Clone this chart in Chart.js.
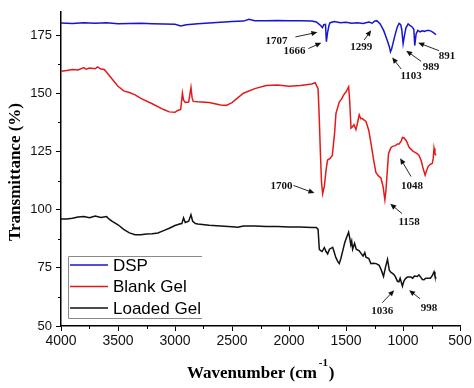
<!DOCTYPE html>
<html>
<head>
<meta charset="utf-8">
<style>
  html, body { margin: 0; padding: 0; background: #fff; }
  #wrap { width: 474px; height: 388px; }
</style>
<script src="https://cdn.jsdelivr.net/npm/chart.js@4.4.1/dist/chart.umd.min.js"></script>
</head>
<body>
<div id="wrap"><canvas id="ftir" width="474" height="388"></canvas></div>
<script>
// ── Data ─────────────────────────────────────
const dspX = [4000,3900,3800,3700,3600,3500,3400,3300,3200,3100,3000,2950,2900,2800,2700,2600,2500,2400,2350,2300,2200,2100,2000,1900,1800,1760,1740,1720,1707,1695,1680,1672,1662,1650,1640,1600,1550,1500,1450,1400,1350,1300,1270,1250,1230,1200,1170,1140,1120,1110,1100,1090,1070,1050,1034,1020,1010,999,990,975,955,940,920,905,897,885,870,850,830,810,790,770,750,730,720,710];
const dspY = [180.2,180.0,180.3,180.1,180.3,179.9,180.0,180.1,179.9,179.8,179.6,178.9,179.4,179.9,180.2,180.5,180.8,181.0,181.8,181.2,181.2,181.3,181.2,181.2,181.0,180.6,179.8,179.0,178.2,179.5,179.6,172.2,176.0,179.0,180.3,180.8,180.3,180.5,180.1,180.3,180.0,180.6,180.1,181.0,181.2,179.8,177.0,173.0,170.0,167.8,169.0,171.0,175.0,178.5,180.0,179.5,177.0,171.3,174.0,178.0,179.8,179.2,178.5,177.5,170.5,175.5,177.0,176.4,176.8,176.6,177.0,177.0,176.6,176.0,175.5,175.2];

const blankX = [4000,3950,3900,3850,3800,3780,3750,3700,3680,3650,3620,3600,3550,3500,3450,3400,3350,3300,3200,3100,3050,3000,2980,2950,2935,2925,2910,2880,2860,2850,2840,2800,2700,2600,2550,2500,2450,2400,2300,2200,2100,2000,1900,1800,1770,1760,1745,1735,1725,1715,1705,1690,1675,1662,1640,1620,1600,1588,1559,1540,1515,1500,1490,1477,1468,1456,1445,1430,1413,1400,1384,1370,1360,1340,1325,1300,1282,1260,1238,1215,1194,1175,1159,1150,1140,1127,1107,1092,1065,1049,1034,1015,1005,990,970,946,931,910,890,874,859,840,825,806,795,780,760,743,735,728,720,710];
const blankY = [159.5,159.8,160.2,160.0,161.0,160.3,160.8,160.5,161.3,160.4,160.2,159.0,156.0,153.0,151.0,150.3,149.3,147.8,145.5,143.0,142.0,141.8,142.5,143.0,150.0,147.0,146.0,146.2,152.5,148.0,146.5,146.3,146.0,145.0,144.8,146.0,148.0,150.0,152.0,153.3,153.5,153.0,153.3,154.0,154.5,153.5,152.0,140.0,125.0,112.0,106.8,110.0,117.0,121.3,122.0,123.3,133.0,141.4,146.2,147.5,149.7,150.5,151.5,152.8,147.0,135.0,135.5,136.5,134.4,137.0,140.7,139.0,139.2,138.5,137.9,134.0,128.9,122.0,116.0,114.5,113.6,110.0,104.2,108.0,115.0,124.0,126.5,127.2,127.5,128.2,128.2,129.5,131.0,130.8,129.5,126.8,126.0,125.0,124.5,124.0,123.3,121.0,118.0,114.8,116.5,118.5,119.5,119.9,122.0,126.4,124.0,123.3];

const loadedX = [4000,3950,3900,3850,3800,3750,3700,3650,3600,3580,3550,3500,3450,3400,3350,3300,3250,3200,3150,3100,3050,3000,2960,2940,2925,2910,2880,2860,2845,2820,2800,2700,2600,2500,2450,2400,2300,2200,2100,2000,1900,1800,1760,1745,1734,1725,1710,1690,1675,1661,1645,1617,1605,1590,1575,1559,1545,1525,1510,1495,1477,1468,1458,1450,1442,1425,1410,1384,1365,1350,1335,1325,1300,1282,1260,1235,1209,1190,1171,1155,1136,1120,1105,1092,1078,1065,1049,1036,1025,1005,1000,990,976,960,946,930,915,900,874,860,845,830,815,800,780,760,745,728,720,710];
const loadedY = [96.0,96.0,96.3,96.8,97.0,96.5,97.2,96.6,97.0,96.0,95.0,93.5,91.5,90.0,89.2,89.2,89.5,89.6,90.0,91.0,92.0,93.2,93.8,94.0,96.5,94.5,95.0,97.8,95.0,94.0,93.8,93.3,93.0,92.6,92.4,93.0,93.0,92.8,92.7,92.5,92.5,92.3,92.3,91.5,83.0,82.5,82.0,83.7,82.0,81.0,83.0,83.8,82.0,79.5,78.0,76.8,79.0,83.0,86.0,88.0,90.3,88.0,85.0,86.5,83.0,85.5,83.0,82.3,81.0,80.0,81.5,79.6,79.0,76.8,77.0,76.8,76.1,74.0,71.3,75.0,78.6,74.0,73.0,72.6,72.0,71.0,69.2,69.0,70.5,67.1,68.0,69.5,70.5,71.0,71.0,71.0,70.5,71.5,71.3,72.0,71.0,70.0,69.9,70.5,70.5,70.5,71.5,73.3,71.5,70.4];

const seriesNames  = ["DSP", "Blank Gel", "Loaded Gel"];
const seriesColors = ["#1616d2", "#e41a1a", "#111111"];

const yTickValues = [50, 75, 100, 125, 150, 175];
const xTickValues = [500, 1000, 1500, 2000, 2500, 3000, 3500, 4000];

// peak labels: text, text position, arrow tail, arrow head (data units)
const peakText  = ["1707","1666","1299","1103","989","891","1700","1158","1048","1036","998"];
const peakTextX = [2110,1952,1366,929,754,614,2066,946,920,1182,771];
const peakTextY = [172.5,167.9,169.6,157.5,161.2,165.8,110.0,94.6,110.0,56.2,57.5];
const tailX     = [1944,1830,1340,1016,841,684,1961,1008,929,1182,850];
const tailY     = [174.2,169.2,172.9,160.4,163.7,168.3,110.4,98.3,114.2,60.0,61.7];
const headX     = [1751,1716,1279,1095,972,867,1777,1112,1025,1077,946];
const headY     = [176.2,171.7,177.1,165.4,168.3,171.7,107.1,102.5,122.1,65.4,65.4];

const pts = (xs, ys) => xs.map((x, i) => ({ x, y: ys[i] }));

// ── Extra drawing: titles, minor ticks, legend, peak labels ──
const decor = {
  id: "decor",
  afterDraw(chart) {
    const { ctx, chartArea: ca, scales: { x, y } } = chart;
    ctx.save();

    // minor ticks
    ctx.strokeStyle = "#000";
    ctx.lineWidth = 1;
    ctx.beginPath();
    for (let v = 62.5; v < 185; v += 25) {
      const py = Math.round(y.getPixelForValue(v)) + 0.5;
      ctx.moveTo(ca.left - 3, py); ctx.lineTo(ca.left, py);
    }
    for (let v = 750; v < 4000; v += 500) {
      const px = Math.round(x.getPixelForValue(v)) + 0.5;
      ctx.moveTo(px, ca.bottom); ctx.lineTo(px, ca.bottom + 3);
    }
    ctx.stroke();

    // axis titles
    ctx.fillStyle = "#000";
    ctx.font = "bold 17px 'Liberation Serif'";
    ctx.textBaseline = "alphabetic";
    const main = "Wavenumber (cm";
    const wMain = ctx.measureText(main).width;
    const x0 = 187;
    ctx.textAlign = "left";
    ctx.fillText(main, x0, 378);
    ctx.fillText(")", x0 + wMain + 12, 378);
    ctx.font = "bold 11px 'Liberation Serif'";
    ctx.fillText("-1", x0 + wMain + 2, 366);

    ctx.save();
    ctx.translate(20, 172);
    ctx.rotate(-Math.PI / 2);
    ctx.font = "bold 17px 'Liberation Serif'";
    ctx.textAlign = "center";
    ctx.fillText("Transmittance (%)", 0, 0);
    ctx.restore();

    // legend box
    const lx = ca.left + 7, ly = 256, lw = 134, lh = 62;
    ctx.strokeStyle = "#8a8a8a";
    ctx.lineWidth = 1;
    ctx.beginPath();
    ctx.moveTo(lx + lw, ly + 0.5); ctx.lineTo(lx + 0.5, ly + 0.5);
    ctx.lineTo(lx + 0.5, ly + lh + 0.5); ctx.lineTo(lx + lw, ly + lh + 0.5);
    ctx.stroke();
    ctx.font = "17px 'Liberation Sans'";
    ctx.textAlign = "left";
    ctx.textBaseline = "middle";
    seriesNames.forEach((name, i) => {
      const yy = 265 + i * 21.5;
      ctx.strokeStyle = seriesColors[i];
      ctx.lineWidth = 1.4;
      ctx.beginPath();
      ctx.moveTo(lx + 2, yy); ctx.lineTo(lx + 40, yy);
      ctx.stroke();
      ctx.fillStyle = "#000";
      ctx.fillText(name, lx + 45, yy + 1);
    });

    // peak labels with arrows
    ctx.font = "bold 11px 'Liberation Serif'";
    ctx.textAlign = "center";
    ctx.textBaseline = "middle";
    ctx.fillStyle = "#111";
    ctx.strokeStyle = "#111";
    peakText.forEach((t, i) => {
      ctx.fillText(t, x.getPixelForValue(peakTextX[i]), y.getPixelForValue(peakTextY[i]));
      const x1 = x.getPixelForValue(tailX[i]), y1 = y.getPixelForValue(tailY[i]);
      const x2 = x.getPixelForValue(headX[i]), y2 = y.getPixelForValue(headY[i]);
      const a = Math.atan2(y2 - y1, x2 - x1);
      ctx.lineWidth = 0.9;
      ctx.beginPath();
      ctx.moveTo(x1, y1);
      ctx.lineTo(x2 - 4 * Math.cos(a), y2 - 4 * Math.sin(a));
      ctx.stroke();
      ctx.beginPath();
      ctx.moveTo(x2, y2);
      ctx.lineTo(x2 - 6 * Math.cos(a) + 2.6 * Math.sin(a), y2 - 6 * Math.sin(a) - 2.6 * Math.cos(a));
      ctx.lineTo(x2 - 6 * Math.cos(a) - 2.6 * Math.sin(a), y2 - 6 * Math.sin(a) + 2.6 * Math.cos(a));
      ctx.closePath();
      ctx.fill();
    });

    ctx.restore();
  }
};

new Chart(document.getElementById("ftir"), {
  type: "line",
  data: {
    datasets: [
      { label: seriesNames[0], data: pts(dspX, dspY) },
      { label: seriesNames[1], data: pts(blankX, blankY) },
      { label: seriesNames[2], data: pts(loadedX, loadedY) },
    ].map((d, i) => ({
      ...d,
      borderColor: seriesColors[i],
      backgroundColor: seriesColors[i],
      borderWidth: 1.5,
      pointRadius: 0,
      tension: 0,
      fill: false,
    }))
  },
  options: {
    responsive: false,
    animation: false,
    events: [],
    layout: { padding: { top: 2, right: 14, left: 0, bottom: 0 } },
    plugins: { legend: { display: false }, tooltip: { enabled: false } },
    scales: {
      x: {
        type: "linear",
        reverse: true,
        min: 500,
        max: 4000,
        afterBuildTicks: s => { s.ticks = xTickValues.map(v => ({ value: v })); },
        afterFit: s => { s.height = 62; },
        grid: { drawOnChartArea: false, tickLength: 5, color: "#000", tickWidth: 1 },
        border: { display: true, color: "#000", width: 1.5 },
        ticks: {
          color: "#111",
          padding: 2,
          maxRotation: 0,
          callback: v => String(v),
          font: { family: "'Liberation Sans'", size: 14 },
        }
      },
      y: {
        min: 50,
        max: 185,
        afterBuildTicks: s => { s.ticks = yTickValues.map(v => ({ value: v })); },
        afterFit: s => { s.width = 61; },
        grid: { drawOnChartArea: false, tickLength: 5, color: "#000", tickWidth: 1 },
        border: { display: true, color: "#000", width: 1.5 },
        ticks: {
          color: "#111",
          padding: 4,
          callback: v => String(v),
          font: { family: "'Liberation Sans'", size: 13 },
        }
      }
    }
  },
  plugins: [decor]
});
</script>
</body>
</html>
